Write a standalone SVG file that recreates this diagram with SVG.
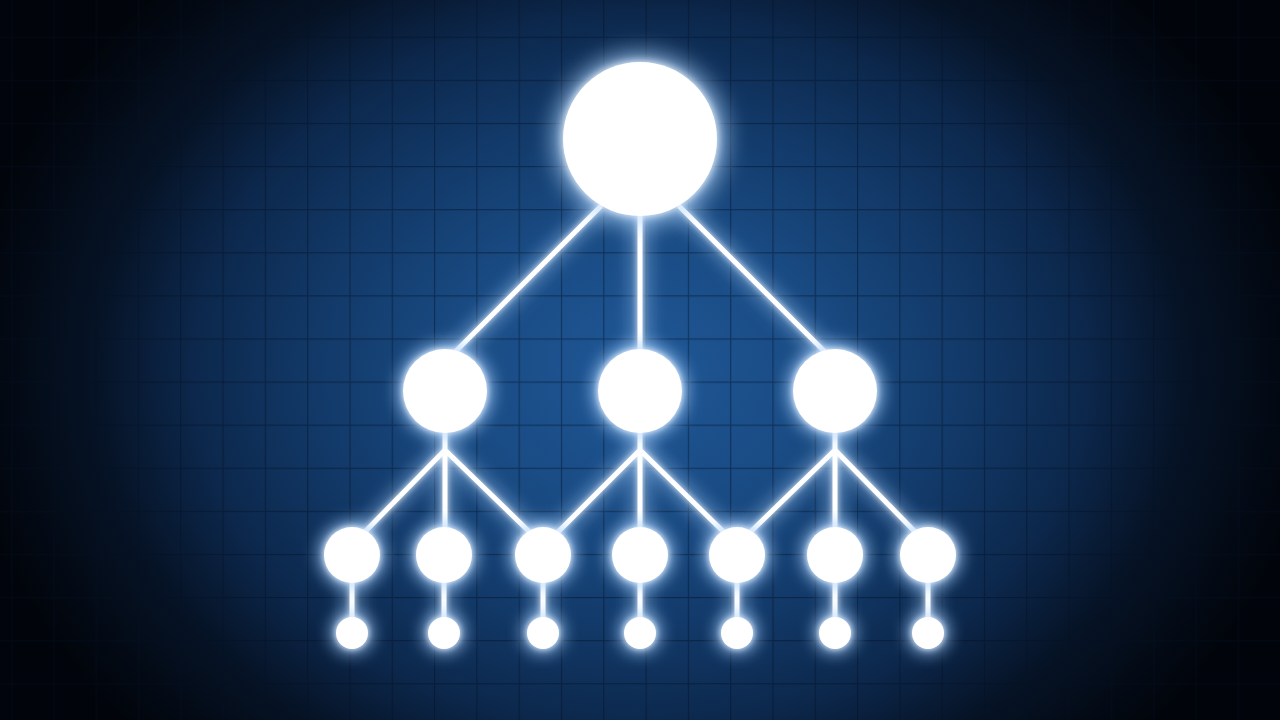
<svg xmlns="http://www.w3.org/2000/svg" width="1280" height="720" viewBox="0 0 1280 720">
  <defs>
    <radialGradient id="bg" cx="640" cy="370" r="680" gradientUnits="userSpaceOnUse" gradientTransform="translate(640 370) scale(1 0.8) translate(-640 -370)">
      <stop offset="0" stop-color="#1f5796"/>
      <stop offset="0.28" stop-color="#194a82"/>
      <stop offset="0.48" stop-color="#123968"/>
      <stop offset="0.66" stop-color="#0c274b"/>
      <stop offset="0.8" stop-color="#061326"/>
      <stop offset="1" stop-color="#01040a"/>
    </radialGradient>
    <pattern id="grid" x="11" y="36.7" width="42.3" height="43.1" patternUnits="userSpaceOnUse">
      <path d="M0 0 H42.3 M0 0 V43.1" fill="none" stroke="#031024" stroke-opacity="0.45" stroke-width="2.4"/>
    </pattern>
    <filter id="glow" x="-60%" y="-60%" width="220%" height="220%">
      <feGaussianBlur in="SourceAlpha" stdDeviation="10" result="b1"/>
      <feFlood flood-color="#a9d2ff" flood-opacity="0.85"/>
      <feComposite in2="b1" operator="in" result="g1"/>
      <feGaussianBlur in="SourceAlpha" stdDeviation="3" result="b2"/>
      <feFlood flood-color="#e6f3ff"/>
      <feComposite in2="b2" operator="in" result="g2"/>
      <feMerge>
        <feMergeNode in="g1"/>
        <feMergeNode in="g1"/>
        <feMergeNode in="g2"/>
        <feMergeNode in="SourceGraphic"/>
      </feMerge>
    </filter>
    <filter id="glowBig" x="-60%" y="-60%" width="220%" height="220%">
      <feGaussianBlur in="SourceAlpha" stdDeviation="15" result="b1"/>
      <feFlood flood-color="#b3d8ff" flood-opacity="0.85"/>
      <feComposite in2="b1" operator="in" result="g1"/>
      <feGaussianBlur in="SourceAlpha" stdDeviation="4" result="b2"/>
      <feFlood flood-color="#eef7ff"/>
      <feComposite in2="b2" operator="in" result="g2"/>
      <feMerge>
        <feMergeNode in="g1"/>
        <feMergeNode in="g1"/>
        <feMergeNode in="g2"/>
        <feMergeNode in="SourceGraphic"/>
      </feMerge>
    </filter>
    <style>
      .node { fill: #ffffff; }
      .edge { stroke: #ffffff; stroke-width: 5; fill: none; stroke-linecap: round; }
    </style>
  </defs>

  <rect width="1280" height="720" fill="url(#bg)"/>
  <rect width="1280" height="720" fill="url(#grid)"/>

  <g id="connectors" filter="url(#glow)">
    <path class="edge" d="M600 207 L450 357"/>
    <path class="edge" d="M640 200 V360"/>
    <path class="edge" d="M680 207 L830 357"/>
    <path class="edge" d="M445 420 V555 M445 450 L352 545 M445 450 L543 545"/>
    <path class="edge" d="M640 420 V555 M640 450 L545 545 M640 450 L737 545"/>
    <path class="edge" d="M835 420 V555 M835 450 L737 545 M835 450 L928 545"/>
    <path class="edge" d="M352 555 V632 M444 555 V632 M543 555 V632 M640 555 V632 M737 555 V632 M835 555 V632 M928 555 V632"/>
  </g>

  <g id="root" filter="url(#glowBig)"><circle class="node" cx="640" cy="139" r="77"/></g>

  <g id="mid-left" filter="url(#glow)"><circle class="node" cx="445" cy="391" r="42"/></g>
  <g id="mid-center" filter="url(#glow)"><circle class="node" cx="640" cy="391" r="42"/></g>
  <g id="mid-right" filter="url(#glow)"><circle class="node" cx="835" cy="391" r="42"/></g>

  <g id="l3-1" filter="url(#glow)"><circle class="node" cx="352" cy="555" r="28"/></g>
  <g id="l3-2" filter="url(#glow)"><circle class="node" cx="444" cy="555" r="28"/></g>
  <g id="l3-3" filter="url(#glow)"><circle class="node" cx="543" cy="555" r="28"/></g>
  <g id="l3-4" filter="url(#glow)"><circle class="node" cx="640" cy="555" r="28"/></g>
  <g id="l3-5" filter="url(#glow)"><circle class="node" cx="737" cy="555" r="28"/></g>
  <g id="l3-6" filter="url(#glow)"><circle class="node" cx="835" cy="555" r="28"/></g>
  <g id="l3-7" filter="url(#glow)"><circle class="node" cx="928" cy="555" r="28"/></g>

  <g id="l4-1" filter="url(#glow)"><circle class="node" cx="352" cy="633" r="16"/></g>
  <g id="l4-2" filter="url(#glow)"><circle class="node" cx="444" cy="633" r="16"/></g>
  <g id="l4-3" filter="url(#glow)"><circle class="node" cx="543" cy="633" r="16"/></g>
  <g id="l4-4" filter="url(#glow)"><circle class="node" cx="640" cy="633" r="16"/></g>
  <g id="l4-5" filter="url(#glow)"><circle class="node" cx="737" cy="633" r="16"/></g>
  <g id="l4-6" filter="url(#glow)"><circle class="node" cx="835" cy="633" r="16"/></g>
  <g id="l4-7" filter="url(#glow)"><circle class="node" cx="928" cy="633" r="16"/></g>
</svg>
